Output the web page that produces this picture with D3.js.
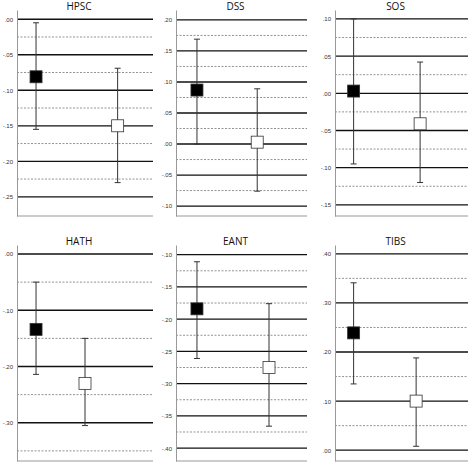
<!DOCTYPE html>
<html><head><meta charset="utf-8">
<script src="https://cdn.jsdelivr.net/npm/d3@7"></script>
<style>body{margin:0;background:#fff}</style>
</head><body>
<svg id="chart" width="474" height="464"></svg>
<script>
// panel titles
var titles = ["HPSC", "DSS", "SOS", "HATH", "EANT", "TIBS"];
// y domains [top, bottom]
var domains = [[0.013,-0.277],[0.216,-0.116],[0.112,-0.165],[0.016,-0.368],[-0.085,-0.42],[0.418,-0.022]];
var majorStep = [0.05, 0.05, 0.05, 0.10, 0.05, 0.10];
// group 1 (filled) and group 2 (open): mean, upper, lower
var meanA = [-0.081, 0.087, 0.003, -0.134, -0.184, 0.239];
var hiA   = [-0.005, 0.169, 0.100, -0.050, -0.111, 0.341];
var loA   = [-0.155, 0.000, -0.095, -0.214, -0.261, 0.135];
var meanB = [-0.150, 0.003, -0.041, -0.230, -0.275, 0.100];
var hiB   = [-0.069, 0.089, 0.042, -0.150, -0.176, 0.188];
var loB   = [-0.230, -0.076, -0.120, -0.305, -0.366, 0.008];
// horizontal positions of the two markers (fraction of plot width)
var posA = [0.14, 0.16, 0.14, 0.14, 0.16, 0.14];
var posB = [0.74, 0.62, 0.64, 0.50, 0.71, 0.61];

var svg = d3.select("#chart");
var cols = [[17,153],[176,307],[335,468]];
var rows = [[10,216],[245,461]];

titles.forEach(function(t, i){
  var c = cols[i % 3], r = rows[Math.floor(i / 3)];
  var y = d3.scaleLinear().domain(domains[i]).range(r);
  var x = d3.scaleLinear().domain([0,1]).range(c);
  var g = svg.append("g");
  var step = majorStep[i];
  var d = domains[i];
  var ticks = [];
  for (var k = Math.ceil(d[1]/step - 1e-6); k*step <= d[0] + 1e-9; k++) ticks.push(+(k*step).toFixed(3));
  // dashed midlines
  ticks.concat([ticks[0]-step]).forEach(function(v){
    var m = v + step/2;
    if (m < d[0] && m > d[1] && y(m) < r[1] - 5) g.append("line").attr("x1",c[0]).attr("x2",c[1])
      .attr("y1",y(m)).attr("y2",y(m)).attr("stroke","#777").attr("stroke-width",0.8).attr("stroke-dasharray","2,1.5");
  });
  ticks.forEach(function(v){
    g.append("line").attr("x1",c[0]).attr("x2",c[1]).attr("y1",y(v)).attr("y2",y(v))
      .attr("stroke","#111").attr("stroke-width",1.3);
  });
  var ax = g.append("g").attr("transform","translate("+c[0]+",0)")
    .call(d3.axisLeft(y).tickValues(ticks).tickSize(0).tickPadding(4)
      .tickFormat(function(v){ var s = d3.format(".2f")(Math.abs(v)).replace(/^0/,""); return (v < -1e-9 ? "-" : "") + s; }));
  ax.select(".domain").attr("stroke","#999");
  ax.selectAll("text").attr("font-size",6).attr("fill","#333").attr("font-family","Liberation Sans, Arial");
  g.append("line").attr("x1",c[0]).attr("x2",c[1]).attr("y1",r[1]).attr("y2",r[1]).attr("stroke","#999");
  g.append("text").attr("x",(c[0]+c[1])/2 - 6).attr("y", r[0] - 0).attr("text-anchor","middle")
    .attr("font-size",10).attr("font-family","Open Sans, Liberation Sans").attr("fill","#111").text(t);
  [[posA,meanA,hiA,loA,"#000"],[posB,meanB,hiB,loB,"#fff"]].forEach(function(s){
    var px = x(s[0][i]);
    g.append("line").attr("x1",px).attr("x2",px).attr("y1",y(s[2][i])).attr("y2",y(s[3][i])).attr("stroke","#333");
    [s[2][i], s[3][i]].forEach(function(v){
      g.append("line").attr("x1",px-3).attr("x2",px+3).attr("y1",y(v)).attr("y2",y(v)).attr("stroke","#333");
    });
    g.append("rect").attr("x",px-6).attr("y",y(s[1][i])-6).attr("width",12).attr("height",12)
      .attr("fill",s[4]).attr("stroke","#333").attr("stroke-width",0.8);
  });
});
</script>
</body></html>
